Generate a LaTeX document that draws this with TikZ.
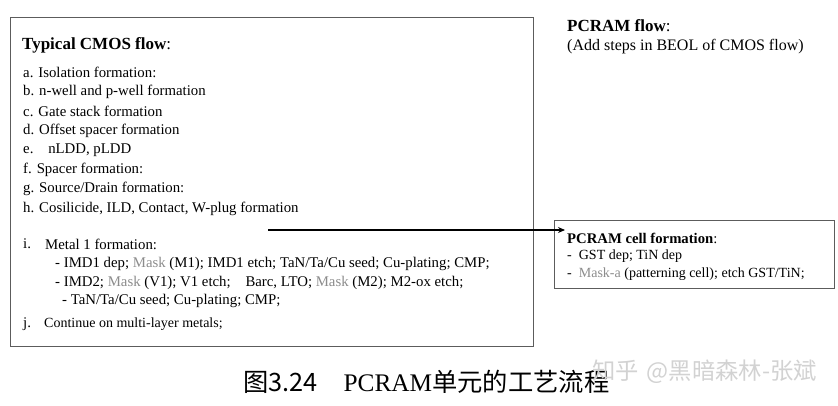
\documentclass[tikz,border=0pt]{standalone}
\usepackage{fontspec}
\setmainfont{Liberation Serif}
\newfontfamily\cjk{Noto Sans CJK SC}
\usetikzlibrary{arrows.meta,positioning,calc}
\definecolor{MaskGrey}{HTML}{8C8C8C}
\definecolor{FrameGrey}{HTML}{5C5C5C}
\definecolor{MarkGrey}{HTML}{D2D2D2}
\newcommand{\mask}[1]{\textcolor{MaskGrey}{#1}}

\begin{document}
\begin{tikzpicture}[x=1pt,y=-1pt,
  frame/.style={draw=FrameGrey,line width=1.1pt,anchor=north west,inner sep=0pt},
  txt/.style={anchor=west,inner sep=0pt,font=\fontsize{14.8}{17}\selectfont},
  celltxt/.style={anchor=west,inner sep=0pt,font=\fontsize{14}{16}\selectfont},
  head/.style={anchor=west,inner sep=0pt,font=\fontsize{17}{20}\selectfont}]
  \useasboundingbox (0,0) rectangle (838,405);
  % CMOS flow box
  \node[frame,minimum width=523pt,minimum height=329pt] (cmosbox) at (10,17) {};
  \node[head] (cmostitle) at (22,45) {\textbf{Typical CMOS flow}:};
  \node[txt] (sa) at (23,72) {a. Isolation formation:};
  \node[txt] (sb) at (23,92) {b. n-well and p-well formation};
  \node[txt] (sc) at (23,111) {c. Gate stack formation};
  \node[txt] (sd) at (23,131) {d. Offset spacer formation};
  \node[txt] (se) at (23,150) {e.\quad nLDD, pLDD};
  \node[txt] (sf) at (23,170) {f. Spacer formation:};
  \node[txt] (sg) at (23,189) {g. Source/Drain formation:};
  \node[txt] (sh) at (23,209) {h. Cosilicide, ILD, Contact, W-plug formation};
  \node[txt] (si) at (23,244) {i.};
  \node[txt] (metal) at (45,244) {Metal 1 formation:};
  \node[txt] (imdone) at (55,264) {- IMD1 dep; \mask{Mask} (M1); IMD1 etch; TaN/Ta/Cu seed; Cu-plating; CMP;};
  \node[txt] (imdtwo) at (55,283) {- IMD2; \mask{Mask} (V1); V1 etch;\quad Barc, LTO; \mask{Mask} (M2); M2-ox etch;};
  \node[txt] (seed) at (62,301) {- TaN/Ta/Cu seed; Cu-plating; CMP;};
  \node[txt] (sj) at (23,324) {j.};
  \node[txt,font=\fontsize{14}{16}\selectfont] (multi) at (44,324) {Continue on multi-layer metals;};
  % PCRAM flow
  \node[head] (pctitle) at (567,26) {\textbf{PCRAM flow}:};
  \node[txt,font=\fontsize{16}{19}\selectfont] (pcsub) at (567,47) {(Add steps in BEOL of CMOS flow)};
  \node[frame,minimum width=280pt,minimum height=68pt] (cellbox) at (554,220) {};
  \node[celltxt,font=\fontsize{14.7}{17}\selectfont] (celltitle) at (567,238) {\textbf{PCRAM cell formation}:};
  \node[celltxt] (gst) at (567,256) {-\enspace GST dep; TiN dep};
  \node[celltxt] (etch) at (567,274) {-\enspace\mask{Mask-a} (patterning cell); etch GST/TiN;};
  % arrow into the cell box
  \coordinate (armstart) at (268,230);
  \coordinate (armend) at (565,230);
  \draw[line width=1.1pt,-{Stealth[length=7pt,width=6pt]}] (armstart) -- (armend);
  % caption
  \node[anchor=west,inner sep=0pt,font=\fontsize{25.3}{29}\selectfont] (caption) at (243,382)
    {{\cjk 图3.24}\hspace{26pt}PCRAM{\cjk 单元的工艺流程}};
  \node[anchor=west,inner sep=0pt,text=MarkGrey,font=\cjk\fontsize{23.3}{26}\selectfont] (mark) at (592,372)
    {知乎\hspace{8pt}@黑暗森林-张斌};
\end{tikzpicture}
\end{document}
